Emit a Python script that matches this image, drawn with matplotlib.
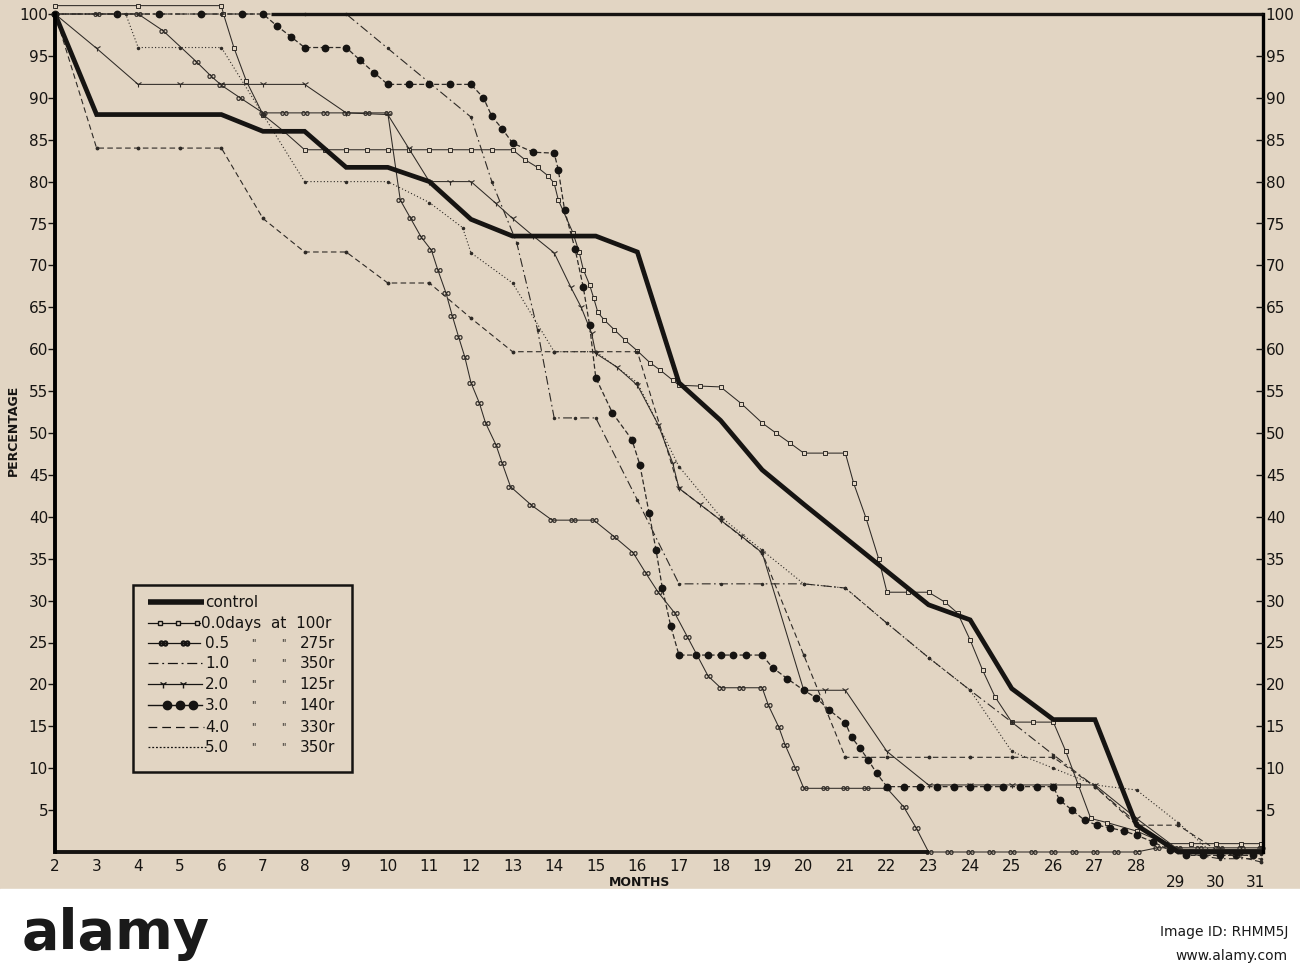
import matplotlib.pyplot as plt
from matplotlib.patches import Rectangle

plt.rcParams['font.family'] = ['DejaVu Sans']

# ---- data (months, percentage surviving) ----
ctrl_m = [2, 3, 4, 5, 6, 7, 8, 9, 10, 11, 12, 13, 14, 15, 16, 17, 18, 19, 20, 21, 22, 23, 24, 25, 26, 27, 28, 29, 30, 31]
ctrl_v = [100, 88, 88, 88, 88, 86, 86, 81.7, 81.7, 80, 75.5, 73.5, 73.5, 73.5, 71.6, 56, 51.5, 45.6, 41.5, 37.5,
          33.5, 29.5, 27.7, 19.5, 15.8, 15.8, 3.2, 0, 0, 0]

# 0.0 days at 100r
m00 = [2, 4, 6, 6.05, 6.3, 6.6, 7, 7.5, 8, 8.5, 9, 9.5, 10, 10.5, 11, 11.5, 12, 12.5, 13, 13.3, 13.6, 13.85, 14,
       14.1, 14.45, 14.6, 14.7, 14.85, 14.95, 15.05, 15.2, 15.45, 15.7, 16, 16.3, 16.55, 16.85, 17, 17.5, 18, 18.5,
       19, 19.33, 19.67, 20, 20.5, 21, 21.2, 21.5, 21.8, 22, 22.5, 23, 23.4, 23.7, 24, 24.3, 24.6, 25, 25.5, 26,
       26.3, 26.6, 26.9, 27.3, 28, 28.7, 29.3, 29.9, 30.5, 31]
v00 = [101, 101, 101, 100, 96, 92, 88, 86, 83.8, 83.8, 83.8, 83.8, 83.8, 83.8, 83.8, 83.8, 83.8, 83.8, 83.8, 82.6,
       81.7, 80.7, 79.8, 77.8, 73.9, 71.6, 69.5, 67.7, 66.1, 64.4, 63.5, 62.3, 61.1, 59.8, 58.4, 57.5, 56.3, 55.7,
       55.6, 55.5, 53.5, 51.2, 50, 48.8, 47.6, 47.6, 47.6, 44, 39.8, 35, 31, 31, 31, 29.8, 28.5, 25.3, 21.7, 18.5,
       15.5, 15.5, 15.5, 12, 8, 4, 3.5, 2.5, 1, 1, 1, 1, 1]

# 0.5 days at 275r
m05 = [2, 3, 4, 4.6, 5.4, 5.75, 6, 6.45, 7, 7.5, 8, 8.5, 9, 9.5, 10, 10.3, 10.55, 10.8, 11.05, 11.2, 11.4, 11.55,
       11.7, 11.85, 12, 12.2, 12.35, 12.6, 12.75, 12.95, 13.45, 13.95, 14.45, 14.95, 15.45, 15.9, 16.2, 16.5, 16.9,
       17.2, 17.7, 18, 18.5, 19, 19.15, 19.4, 19.55, 19.8, 20, 20.5, 21, 21.5, 22, 22.4, 22.7, 23, 23.5, 24, 24.5,
       25, 25.5, 26, 26.5, 27, 27.5, 28, 28.5, 29, 29.5, 30, 30.5, 31]
v05 = [100, 100, 100, 98, 94.3, 92.6, 91.5, 90, 88.2, 88.2, 88.2, 88.2, 88.2, 88.2, 88.2, 77.8, 75.6, 73.4, 71.8,
       69.5, 66.7, 64, 61.5, 59.1, 56, 53.6, 51.2, 48.6, 46.4, 43.6, 41.4, 39.6, 39.6, 39.6, 37.6, 35.7, 33.3, 31,
       28.5, 25.7, 21, 19.6, 19.6, 19.6, 17.5, 14.9, 12.8, 10, 7.6, 7.6, 7.6, 7.6, 7.6, 5.4, 2.9, 0, 0, 0, 0, 0, 0,
       0, 0, 0, 0, 0, 0.5, 0.5, 0.5, 0.5, 0.5, 0.5]

# 1.0 days at 350r
m10 = [2, 4, 6, 8, 9, 10, 11, 12, 12.5, 13.1, 13.6, 14, 14.5, 15, 16, 17, 18, 19, 20, 21, 22, 23, 24, 25, 26, 27,
       28, 29, 30, 31]
v10 = [100, 100, 100, 100, 100, 95.9, 91.8, 87.7, 80, 72.7, 62.3, 51.8, 51.8, 51.8, 42, 32, 32, 32, 32, 31.5, 27.3,
       23.2, 19.3, 15.5, 11.6, 7.8, 3.5, 0, -0.8, -0.8]

# 2.0 days at 125r
m20 = [2, 3, 4, 5, 6, 7, 8, 9, 10, 10.5, 11, 11.5, 12, 12.6, 13, 13.5, 14, 14.4, 14.65, 14.9, 15, 15.5, 16, 16.5,
       16.85, 17, 17.5, 18, 18.5, 19, 20, 20.5, 21, 22, 23, 24, 25, 26, 27, 28, 29, 30, 31]
v20 = [100, 95.9, 91.6, 91.6, 91.6, 91.6, 91.6, 88.2, 88, 84, 80, 80, 80, 77.4, 75.6, 73.5, 71.5, 67.4, 65, 61.9,
       59.5, 57.9, 55.7, 51, 46.4, 43.4, 41.5, 39.6, 37.7, 35.7, 19.3, 19.3, 19.3, 12, 8, 8, 8, 8, 8, 4, 0.3, 0.3,
       0.3]

# 3.0 days at 140r
m30 = [2, 3.5, 4.5, 5.5, 6.5, 7, 7.33, 7.67, 8, 8.5, 9, 9.33, 9.67, 10, 10.5, 11, 11.5, 12, 12.3, 12.5, 12.75, 13,
       13.5, 14, 14.1, 14.25, 14.5, 14.7, 14.85, 15.0, 15.4, 15.87, 16.06, 16.28, 16.45, 16.6, 16.8, 17, 17.4, 17.7,
       18, 18.3, 18.6, 19, 19.25, 19.6, 20, 20.3, 20.6, 21, 21.15, 21.35, 21.55, 21.75, 22, 22.4, 22.8, 23.2, 23.6,
       24, 24.4, 24.8, 25.2, 25.6, 26, 26.15, 26.45, 26.75, 27.05, 27.35, 27.7, 28, 28.4, 28.8, 29.2, 29.6, 30,
       30.4, 30.8]
v30 = [100, 100, 100, 100, 100, 100, 98.6, 97.3, 96, 96, 96, 94.5, 93, 91.6, 91.6, 91.6, 91.6, 91.6, 90, 87.8, 86.3,
       84.6, 83.5, 83.4, 81.4, 76.6, 72, 67.4, 62.9, 56.6, 52.4, 49.2, 46.2, 40.5, 36, 31.5, 27, 23.5, 23.5, 23.5,
       23.5, 23.5, 23.5, 23.5, 22, 20.7, 19.3, 18.4, 17, 15.4, 13.7, 12.4, 11, 9.4, 7.8, 7.8, 7.8, 7.8, 7.8, 7.8, 7.8,
       7.8, 7.8, 7.8, 7.8, 6.2, 5, 3.8, 3.2, 2.9, 2.5, 2, 1.2, 0.2, -0.4, -0.4, -0.4, -0.4, -0.4]

# 4.0 days at 330r
m40 = [2, 3, 4, 5, 6, 7, 8, 9, 10, 11, 12, 13, 14, 15, 16, 17, 18, 19, 20, 21, 22, 23, 24, 25, 26, 27, 28, 29, 30, 31]
v40 = [100, 84, 84, 84, 84, 75.6, 71.6, 71.6, 67.9, 67.9, 63.7, 59.7, 59.7, 59.7, 59.7, 43.4, 39.6, 35.7, 23.5,
       11.3, 11.3, 11.3, 11.3, 11.3, 11.3, 7.8, 3.2, 3.2, 0, -1.2]

# 5.0 days at 350r
m50 = [2, 3, 3.7, 4, 5, 6, 7, 8, 9, 10, 11, 11.8, 12, 13, 14, 15, 16, 17, 18, 19, 20, 21, 22, 23, 24, 25, 26, 27,
       28, 29, 29.8, 30.5, 31]
v50 = [100, 100, 100, 96, 96, 96, 88, 80, 80, 80, 77.5, 74.5, 71.5, 67.9, 59.7, 59.7, 56, 46, 40, 36, 32, 31.5, 27.3,
       23.2, 19.3, 12, 10, 8, 7.4, 3.5, 0, -0.2, -0.2]

month_labels = list(range(2, 32))
pct_ticks = list(range(5, 101, 5))
legend_rows = [('0.0', '100r'), ('0.5', '275r'), ('1.0', '350r'), ('2.0', '125r'),
               ('3.0', '140r'), ('4.0', '330r'), ('5.0', '350r')]

paper = '#e2d5c3'
ink = '#161412'
thin = '#2e2a26'

fig = plt.figure(figsize=(13, 9.8), dpi=100, facecolor=paper)
ax = fig.add_axes([55 / 1300, 128 / 980, 1208 / 1300, 838 / 980])
ax.set_facecolor(paper)
ax.set_xlim(2, 31.04)
ax.set_ylim(0, 100)

kw = dict(color=thin, clip_on=False)
ax.plot(m00, v00, lw=0.75, marker='s', ms=2.8, mfc=paper, mec=thin, mew=0.7, **kw)
ax.plot(m05, v05, lw=0.75, marker=r'$\infty$', ms=5.5, mec=thin, mfc=thin, mew=0.3, **kw)
ax.plot(m10, v10, lw=0.8, ls=(0, (8, 3, 1.5, 3)), marker='.', ms=3, **kw)
ax.plot(m20, v20, lw=0.75, marker='1', ms=5, mew=0.8, **kw)
ax.plot(m30, v30, lw=0.9, ls=(0, (4, 2)), marker='o', ms=4.6, mfc=ink, mec=ink, **kw)
ax.plot(m40, v40, lw=0.8, ls=(0, (5, 3)), marker='.', ms=3.5, **kw)
ax.plot(m50, v50, lw=0.8, ls=(0, (1, 2)), marker='.', ms=3, **kw)
ax.plot(ctrl_m, ctrl_v, lw=3.4, color=ink, solid_joinstyle='miter', clip_on=False)

# frame: partial top and bottom rules like the drawing
for s in ['top', 'bottom']:
    ax.spines[s].set_visible(False)
ax.spines['left'].set_linewidth(2.8)
ax.spines['right'].set_linewidth(2.4)
ax.plot([7.2, 31.04], [100, 100], lw=2.4, color=ink, clip_on=False, solid_capstyle='butt')
ax.plot([2, 23], [0, 0], lw=2.8, color=ink, clip_on=False, solid_capstyle='butt')

ax.set_xticks([])
ax.set_yticks(pct_ticks)
ax.tick_params(axis='y', direction='out', length=5, width=1, labelsize=11, pad=0, colors=ink)
ax2 = ax.twinx()
ax2.set_ylim(0, 100)
ax2.set_yticks(pct_ticks)
ax2.tick_params(axis='y', direction='in', length=5, width=1, labelsize=11, pad=2, colors=ink)
for s in ['top', 'bottom', 'left', 'right']:
    ax2.spines[s].set_visible(False)

for m in month_labels:
    if m < 29:
        ax.text(m, -1.75, str(m), ha='center', va='center', fontsize=11, color=ink, clip_on=False)
    else:
        ax.text(m - 0.05 * (m - 28), -3.6, str(m), ha='center', va='center', fontsize=11, color=ink, clip_on=False)

# overlay in pixel units for labels, legend and the bottom strip
ov = fig.add_axes([0, 0, 1, 1], zorder=5)
ov.set_xlim(0, 1300)
ov.set_ylim(980, 0)
ov.axis('off')

ov.text(640, 882, 'MONTHS', ha='center', va='center', fontsize=9, fontweight='bold', color=ink)
ov.text(13, 430, 'PERCENTAGE', ha='center', va='center', rotation=90, fontsize=9, fontweight='bold', color=ink)

# hand-drawn legend box
ov.add_patch(Rectangle((133, 585), 219, 187, fill=True, fc=paper, ec=ink, lw=1.8))
ov.plot([148, 204], [602, 602], lw=4, color=ink, solid_capstyle='butt')
ov.text(205, 602, 'control', ha='left', va='center', fontsize=11, color=ink)
rows_y = [623, 643, 663, 684, 705, 727, 747]
ov.plot([148, 200], [rows_y[0]] * 2, lw=0.9, color=ink)
ov.plot([160, 178, 197], [rows_y[0]] * 3, lw=0, marker='s', ms=3, mfc=paper, mec=ink)
ov.plot([148, 200], [rows_y[1]] * 2, lw=0.9, color=ink)
ov.plot([163, 185], [rows_y[1]] * 2, lw=0, marker=r'$\infty$', ms=6, color=ink)
ov.plot([148, 202], [rows_y[2]] * 2, lw=0.9, color=ink, ls=(0, (8, 3, 1.5, 3)))
ov.plot([148, 202], [rows_y[3]] * 2, lw=0.9, color=ink)
ov.plot([163, 183], [rows_y[3]] * 2, lw=0, marker='1', ms=6, color=ink)
ov.plot([148, 202], [rows_y[4]] * 2, lw=1.0, color=ink)
ov.plot([167, 180, 193], [rows_y[4]] * 3, lw=0, marker='o', ms=6, color=ink)
ov.plot([148, 204], [rows_y[5]] * 2, lw=0.9, color=ink, ls=(0, (7, 4)))
ov.plot([148, 206], [rows_y[6]] * 2, lw=0.9, color=ink, ls=(0, (1.5, 1.5)))
for i, (d, r) in enumerate(legend_rows):
    y = rows_y[i]
    if i == 0:
        ov.text(201, y, d + 'days  at  ' + r, ha='left', va='center', fontsize=11, color=ink)
    else:
        ov.text(205, y, d, ha='left', va='center', fontsize=11, color=ink)
        ov.text(253, y, '"', ha='center', va='center', fontsize=7, color=ink)
        ov.text(283, y, '"', ha='center', va='center', fontsize=7, color=ink)
        ov.text(335, y, r, ha='right', va='center', fontsize=11, color=ink)

# stock-photo strip at the bottom of the scan
ov.add_patch(Rectangle((0, 889), 1300, 91, color='white'))
ov.text(22, 934, 'alamy', ha='left', va='center', fontsize=40, fontweight='bold', color='#1a1a1a')
ov.text(1288, 932, 'Image ID: RHMM5J', ha='right', va='center', fontsize=10, color='#1a1a1a')
ov.text(1288, 956, 'www.alamy.com', ha='right', va='center', fontsize=10, color='#1a1a1a')

fig.savefig('out.png', dpi=100, facecolor=paper)
